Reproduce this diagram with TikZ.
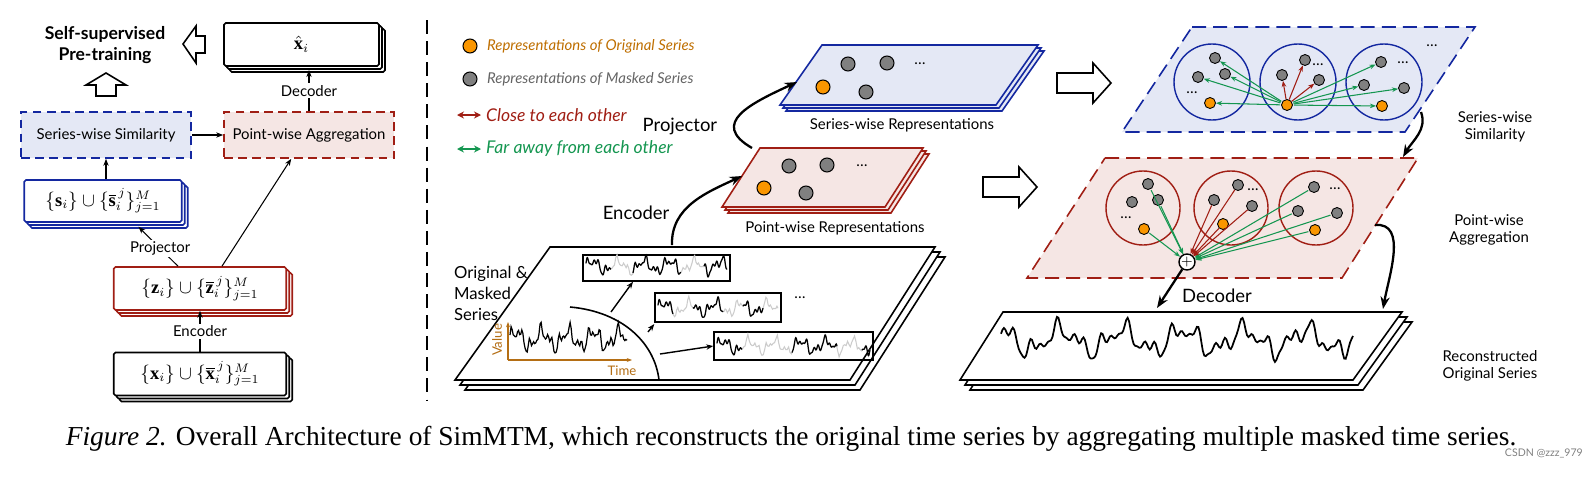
\documentclass[tikz,border=0pt]{standalone}
\usepackage{fontspec}
\setmainfont{Liberation Serif}
\newfontfamily\gill{Lato}
\usetikzlibrary{arrows.meta,calc}
\definecolor{bl}{RGB}{20,40,160}
\definecolor{blfill}{RGB}{228,232,245}
\definecolor{rd}{RGB}{160,30,20}
\definecolor{rdfill}{RGB}{245,230,228}
\definecolor{gr}{RGB}{20,150,80}
\definecolor{og}{RGB}{250,150,0}
\definecolor{ogtxt}{RGB}{190,110,0}
\definecolor{brn}{RGB}{180,110,20}
\definecolor{gtxt}{RGB}{100,100,100}
\tikzset{
  declare function={ts(\t)=0.5*sin(\t*14)+0.35*sin(\t*37+40)+0.22*sin(\t*61+10)+0.14*sin(\t*97);},
  lbl/.style={font=\gill\fontsize{8.5}{10}\selectfont, inner sep=1pt},
  box/.style={draw, line width=0.9pt, fill=white, rounded corners=1pt, font=\fontsize{10.5}{12}\selectfont},
  dbox/.style={draw, line width=0.9pt, dashed, dash pattern=on 5pt off 3pt, minimum width=3.4cm, minimum height=0.92cm, lbl},
  arr/.style={-{Stealth[length=4pt]}, line width=0.6pt},
  big/.style={-{Stealth[length=7pt]}, line width=1.3pt},
  hol/.style={draw, line width=0.9pt, fill=white},
  pt/.style={circle, draw=black, line width=0.6pt, inner sep=0pt, minimum size=0.28cm},
  sp/.style={circle, draw=black, line width=0.5pt, inner sep=0pt, minimum size=0.22cm},
  ga/.style={-{Stealth[length=3.5pt]}, gr, line width=0.6pt, shorten <=0.5pt},
  ra/.style={-{Stealth[length=3.5pt]}, rd, line width=0.6pt},
  leg/.style={{Stealth[length=4pt,width=4pt]}-{Stealth[length=4pt,width=4pt]}, line width=0.9pt},
}
% stacked box: name, center, width(cm), height(cm), colour, text
\newcommand{\stackbox}[6]{%
  \foreach \o in {6,3}{\node[box, draw=#5, minimum width=#3cm, minimum height=#4cm] at ($(#2)+(\o,\o)$) {};}
  \node[box, draw=#5, minimum width=#3cm, minimum height=#4cm] (#1) at (#2) {#6};}
% parallelogram plane: top-left, top-right, bottom-right, bottom-left
\newcommand{\plane}[5]{\draw[#5] (#1) -- (#2) -- (#3) -- (#4) -- cycle;}
\newcommand{\tser}[5]{\draw[line width=#5] plot[domain=#3, samples=110] ({#1+\x}, {#2-#4*ts(\x)});}
\begin{document}
\begin{tikzpicture}[x=0.02cm, y=-0.02cm]
\useasboundingbox (0,0) rectangle (1593,477);

% ---------------- left panel ----------------
\node[font=\gill\bfseries\fontsize{10}{12}\selectfont, align=center] (ssp) at (105,45) {Self-supervised\\Pre-training};
\draw[hol] (183,44) -- (196,26) -- (196,36) -- (205,36) -- (205,53) -- (196,53) -- (196,63) -- cycle;
\draw[hol] (86,85) -- (106,73) -- (126,85) -- (116,85) -- (116,96) -- (96,96) -- (96,85) -- cycle;

\stackbox{xh}{301.5,44.5}{3.1}{0.86}{black}{$\hat{\mathbf{x}}_i$}
\node[dbox, draw=bl, fill=blfill] (sim) at (106,135) {Series-wise Similarity};
\node[dbox, draw=rd, fill=rdfill] (agg) at (309,135) {Point-wise Aggregation};
\stackbox{s}{103,201}{3.15}{0.84}{bl}{$\{\mathbf{s}_i\}\cup\{\overline{\mathbf{s}}_i^{\,j}\}_{j=1}^{M}$}
\stackbox{z}{200,288.5}{3.45}{0.86}{rd}{$\{\mathbf{z}_i\}\cup\{\overline{\mathbf{z}}_i^{\,j}\}_{j=1}^{M}$}
\stackbox{x}{200,374}{3.45}{0.86}{black}{$\{\mathbf{x}_i\}\cup\{\overline{\mathbf{x}}_i^{\,j}\}_{j=1}^{M}$}

\draw[arr] (sim.east) -- (agg.west);
\draw[arr] (agg.north -| 309,0) -- node[lbl, fill=white] {Decoder} (309,70);
\draw[arr] (s.north -| sim.south) -- (sim.south);
\draw[arr] ($(z.north west)+(65,0)$) -- node[lbl, fill=white, pos=0.45] {Projector} ($(s.south west)+(115,4)$);
\draw[arr] ($(z.north west)+(109,0)$) -- ($(agg.south west)+(68,0)$);
\draw[arr] (x.north) -- node[lbl, fill=white] {Encoder} (z.south);

\draw[line width=0.9pt, dash pattern=on 8pt off 4pt] (427,20) -- (427,400);

% ---------------- legend ----------------
\node[pt, fill=og] (lo) at (470,46) {};
\node[pt, fill=gray] (lg) at (470,79) {};
\node[lbl, anchor=west, text=ogtxt, font=\gill\itshape\fontsize{8.5}{10}\selectfont] at (485,46) {Representations of Original Series};
\node[lbl, anchor=west, text=gtxt, font=\gill\itshape\fontsize{8.5}{10}\selectfont] at (485,79) {Representations of Masked Series};
\coordinate (lr1) at (457,115); \coordinate (lr2) at (481,115);
\draw[leg, rd] (lr1) -- (lr2);
\node[lbl, anchor=west, text=rd, font=\gill\itshape\fontsize{10}{12}\selectfont] at (484,115) {Close to each other};
\coordinate (lg1) at (457,149); \coordinate (lg2) at (481,149);
\draw[leg, gr] (lg1) -- (lg2);
\node[lbl, anchor=west, text=gr, font=\gill\itshape\fontsize{10}{12}\selectfont] at (484,149) {Far away from each other};

% ---------------- middle planes ----------------
\foreach \o in {6,3,0}{\plane{822+\o,45+\o}{1038+\o,45+\o}{996+\o,105+\o}{780+\o,105+\o}{bl, line width=0.9pt, fill=blfill}}
\node[lbl] at (902,125) {Series-wise Representations};
\node[pt, fill=gray] at (848,64) {}; \node[pt, fill=gray] at (887,63) {};
\node[pt, fill=gray] at (866,92) {}; \node[pt, fill=og] at (823,87) {};
\node[lbl] at (920,64) {\dots};

\foreach \o in {6,3,0}{\plane{760+\o,148+\o}{923+\o,148+\o}{885+\o,207+\o}{722+\o,207+\o}{rd, line width=0.9pt, fill=rdfill}}
\node[lbl] at (835,228) {Point-wise Representations};
\node[pt, fill=gray] at (789,166) {}; \node[pt, fill=gray] at (827,165) {};
\node[pt, fill=gray] at (806,193) {}; \node[pt, fill=og] at (764,188) {};
\node[lbl] at (862,166) {\dots};

\foreach \o in {10,5,0}{\plane{550+\o,247+\o}{935+\o,247+\o}{850+\o,380+\o}{455+\o,380+\o}{black, line width=0.9pt, fill=white}}
\node[lbl, align=left, anchor=north west, font=\gill\fontsize{9.5}{12}\selectfont] at (452,264) {Original \&\\Masked\\Series};
\draw[brn, line width=0.8pt, -{Stealth[length=3pt]}] (508,360) -- (508,322);
\draw[brn, line width=0.8pt, -{Stealth[length=3pt]}] (508,360) -- (632,360);
\node[lbl, text=brn, rotate=90, font=\gill\fontsize{7.5}{9}\selectfont] at (497,340) {Value};
\node[lbl, text=brn, font=\gill\fontsize{7.5}{9}\selectfont] at (622,371) {Time};
\tser{510}{339}{0:117}{15}{0.7pt}
\draw[line width=0.9pt] (570,307) .. controls (625,312) and (655,345) .. (659,380);

\node[draw, line width=0.8pt, minimum width=2.94cm, minimum height=0.52cm] (m1) at (656.5,268) {};
\node[draw, line width=0.8pt, minimum width=2.52cm, minimum height=0.58cm] (m2) at (718,307.5) {};
\node[draw, line width=0.8pt, minimum width=3.18cm, minimum height=0.56cm] (m3) at (793.5,346) {};
\begin{scope}[gray!40]\tser{586}{266}{0:141}{10}{0.6pt}\end{scope}
\foreach \a in {0:25,47:95,118:141}{\tser{586}{266}{\a}{10}{0.7pt}}
\begin{scope}[gray!40]\tser{658}{308}{0:120}{10}{0.6pt}\end{scope}
\foreach \a in {0:15,35:65,85:105}{\tser{658}{308}{\a}{10}{0.7pt}}
\begin{scope}[gray!40]\tser{717}{346}{0:153}{10}{0.6pt}\end{scope}
\foreach \a in {0:25,75:120,145:153}{\tser{717}{346}{\a}{10}{0.7pt}}
\node[lbl] at (800,298) {\dots};
\draw[arr, line width=0.8pt] (611,312) -- (m1.south west -| 633,0);
\draw[arr, line width=0.8pt] (648,332) -- (m2.west |- 0,324);
\draw[arr, line width=0.8pt] (660,354) -- (m3.west);

\coordinate (enc1) at (672,245); \coordinate (enc2) at (742,176);
\draw[big] (enc1) to[out=92, in=205] node[lbl, pos=0.35, left=6pt, font=\gill\fontsize{10.5}{12}\selectfont] {Encoder} (enc2);
\coordinate (pro1) at (752,148); \coordinate (pro2) at (797,82);
\draw[big] (pro1) to[out=150, in=205, looseness=1.6] node[lbl, pos=0.3, left=8pt, font=\gill\fontsize{10.5}{12}\selectfont] {Projector} (pro2);

% hollow arrows
\draw[hol] (1057,73) -- (1093,73) -- (1093,63) -- (1111,83) -- (1093,103) -- (1093,93) -- (1057,93) -- cycle;
\draw[hol] (983,177) -- (1019,177) -- (1019,167) -- (1037,187) -- (1019,207) -- (1019,197) -- (983,197) -- cycle;

% ---------------- right: series-wise similarity ----------------
\plane{1192,27}{1475,27}{1405,132}{1122,132}{bl, line width=0.9pt, fill=blfill, dash pattern=on 8pt off 4pt}
\foreach \c in {1212,1298,1384}{\draw[bl, line width=0.8pt] (\c,82) circle (38);}
\node[sp, fill=gray] (a1) at (1215,58) {}; \node[sp, fill=gray] (a2) at (1198,77) {};
\node[sp, fill=gray] (a3) at (1225,74) {}; \node[sp, fill=og] (a4) at (1210,103) {};
\node[lbl] at (1192,93) {\dots};
\node[sp, fill=og] (c0) at (1287,105) {};
\node[sp, fill=gray] (b1) at (1282,75) {}; \node[sp, fill=gray] (b2) at (1305,60) {};
\node[sp, fill=gray] (b3) at (1319,80) {}; \node[lbl] at (1318,65) {\dots};
\node[sp, fill=gray] (d1) at (1381,62) {}; \node[sp, fill=gray] (d2) at (1364,85) {};
\node[sp, fill=gray] (d3) at (1404,88) {}; \node[sp, fill=og] (d4) at (1382,106) {};
\node[lbl] at (1403,63) {\dots};
\node[lbl] at (1432,46) {\dots};
\foreach \n in {a1,a2,a3,a4,d1,d2,d3,d4}{\draw[ga] (c0) -- (\n);}
\foreach \n in {b1,b2,b3}{\draw[ra] (c0) -- (\n);}

% ---------------- right: point-wise aggregation ----------------
\plane{1105,158}{1418,158}{1342,278}{1027,278}{rd, line width=0.9pt, fill=rdfill, dash pattern=on 8pt off 4pt}
\foreach \c in {1143,1231,1316}{\draw[rd, line width=0.8pt] (\c,208) circle (37);}
\node[sp, fill=gray] (e1) at (1148,184) {}; \node[sp, fill=gray] (e2) at (1132,202) {};
\node[sp, fill=gray] (e3) at (1158,200) {}; \node[sp, fill=og] (e4) at (1144,229) {};
\node[lbl] at (1126,218) {\dots};
\node[sp, fill=gray] (f1) at (1214,200) {}; \node[sp, fill=gray] (f2) at (1238,185) {};
\node[sp, fill=gray] (f3) at (1252,206) {}; \node[sp, fill=og] (f4) at (1223,224) {};
\node[lbl] at (1253,190) {\dots};
\node[sp, fill=gray] (g1) at (1314,187) {}; \node[sp, fill=gray] (g2) at (1298,211) {};
\node[sp, fill=gray] (g3) at (1337,213) {}; \node[sp, fill=og] (g4) at (1315,230) {};
\node[lbl] at (1335,189) {\dots};
\node[circle, draw, line width=0.8pt, fill=white, inner sep=0pt, minimum size=0.32cm, font=\fontsize{8}{8}\selectfont] (sum) at (1187,262) {$+$};
\foreach \n in {e1,e3,e4,g1,g2,g3,g4}{\draw[ga] (\n) -- (sum);}
\foreach \n in {f1,f2,f3,f4}{\draw[ra] (\n) -- (sum);}

% ---------------- reconstructed ----------------
\foreach \o in {10,5,0}{\plane{1003+\o,312+\o}{1402+\o,312+\o}{1353+\o,380+\o}{960+\o,380+\o}{black, line width=0.9pt, fill=white}}
\draw[line width=1pt] plot[domain=0:352, samples=240] ({1001+\x}, {340-20*ts(\x*0.42+7)});
\coordinate (dec) at (1157,308);
\draw[big] (sum) -- (dec);
\node[lbl, font=\gill\fontsize{10.5}{12}\selectfont] at (1217,296) {Decoder};
\coordinate (sw1) at (1421,112); \coordinate (sw2) at (1403,157);
\draw[big] (sw1) to[out=-70, in=60] (sw2);
\coordinate (pw1) at (1375,225); \coordinate (pw2) at (1383,309);
\draw[big] (pw1) to[out=5, in=80] (pw2);
\node[lbl, align=center] at (1495,127) {Series-wise\\Similarity};
\node[lbl, align=center] at (1489,230) {Point-wise\\Aggregation};
\node[lbl, align=center] at (1490,366) {Reconstructed\\Original Series};

% ---------------- caption ----------------
\node[font=\fontsize{15.6}{18}\selectfont] at (791,439) {\textit{Figure 2.} Overall Architecture of SimMTM, which reconstructs the original time series by aggregating multiple masked time series.};
\node[text=gray, font=\gill\fontsize{6}{7}\selectfont, anchor=east] at (1589,453) {CSDN @zzz\_979};
\end{tikzpicture}
\end{document}
